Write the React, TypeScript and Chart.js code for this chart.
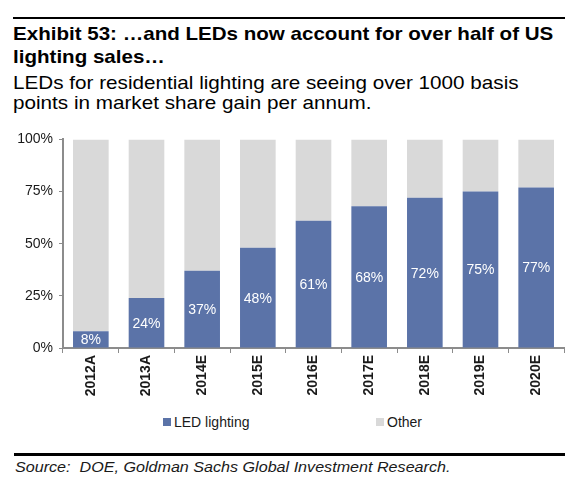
import { useEffect, useRef } from 'react';
import Chart from 'chart.js/auto';

const years = ['2012A', '2013A', '2014E', '2015E', '2016E', '2017E', '2018E', '2019E', '2020E'];
const ledShare = [8, 24, 37, 48, 61, 68, 72, 75, 77];
const otherShare = [92, 76, 63, 52, 39, 32, 28, 25, 23];
const yTicks = [0, 25, 50, 75, 100];

const LED_BLUE = '#5b73a8';
const OTHER_GREY = '#d9d9d9';
const FONT = '"Liberation Sans", Arial, sans-serif';

// white % labels centred in the LED segments
const barLabels = {
  id: 'barLabels',
  afterDatasetsDraw(chart: Chart) {
    const ctx = chart.ctx;
    const meta = chart.getDatasetMeta(0);
    ctx.save();
    ctx.fillStyle = '#ffffff';
    ctx.font = `14px ${FONT}`;
    ctx.textAlign = 'center';
    ctx.textBaseline = 'middle';
    meta.data.forEach((bar: any, i: number) => {
      const { x, y, base } = bar.getProps(['x', 'y', 'base'], true);
      ctx.fillText(`${ledShare[i]}%`, x, (y + base) / 2 + 1);
    });
    ctx.restore();
  },
};

const App = () => {
  const canvasRef = useRef<HTMLCanvasElement>(null);

  useEffect(() => {
    if (!canvasRef.current) return;
    const chart = new Chart(canvasRef.current, {
      type: 'bar',
      data: {
        labels: years,
        datasets: [
          {
            label: 'LED lighting',
            data: ledShare,
            backgroundColor: LED_BLUE,
            categoryPercentage: 1,
            barPercentage: 0.64,
          },
          {
            label: 'Other',
            data: otherShare,
            backgroundColor: OTHER_GREY,
            categoryPercentage: 1,
            barPercentage: 0.64,
          },
        ],
      },
      options: {
        responsive: false,
        animation: false,
        layout: { padding: { top: 14, right: 24, left: 0, bottom: 0 } },
        plugins: {
          legend: { display: false },
          tooltip: { enabled: false },
        },
        scales: {
          x: {
            stacked: true,
            grid: {
              drawOnChartArea: false,
              drawTicks: true,
              tickLength: 5,
              color: '#8c8c8c',
              offset: true,
            },
            border: { color: '#8c8c8c', width: 2 },
            ticks: {
              minRotation: 90,
              maxRotation: 90,
              padding: 2,
              color: '#1a1a1a',
              font: { family: FONT, size: 14, weight: 'bold' },
            },
            afterFit: (scale: any) => {
              scale.height = 57;
            },
          },
          y: {
            stacked: true,
            min: 0,
            max: 100,
            afterBuildTicks: (scale: any) => {
              scale.ticks = yTicks.map((v) => ({ value: v }));
            },
            grid: {
              drawOnChartArea: false,
              drawTicks: true,
              tickLength: 4,
              color: '#8c8c8c',
            },
            border: { color: '#8c8c8c', width: 2 },
            ticks: {
              padding: 6,
              color: '#1a1a1a',
              font: { family: FONT, size: 14 },
              callback: (v: any) => `${v}%`,
            },
            afterFit: (scale: any) => {
              scale.width = 63;
            },
          },
        },
      },
      plugins: [barLabels],
    });
    return () => chart.destroy();
  }, []);

  const text = {
    position: 'absolute' as const,
    fontFamily: FONT,
    color: '#000',
    whiteSpace: 'nowrap' as const,
    transformOrigin: 'left top',
  };

  return (
    <div style={{ position: 'absolute', left: 0, top: 0, width: 588, height: 489, background: '#fff' }}>
      <div style={{ position: 'absolute', left: 13, top: 17, width: 552, height: 2, background: '#000' }} />
      <div
        style={{
          ...text,
          left: 13,
          top: 22,
          fontSize: 19,
          lineHeight: '23px',
          fontWeight: 'bold',
          transform: 'scaleX(1.082)',
        }}
      >
        Exhibit 53: …and LEDs now account for over half of US
        <br />
        lighting sales…
      </div>
      <div style={{ ...text, left: 13, top: 73, fontSize: 19, lineHeight: '20px', transform: 'scaleX(1.088)' }}>
        LEDs for residential lighting are seeing over 1000 basis
        <br />
        points in market share gain per annum.
      </div>
      <canvas
        ref={canvasRef}
        width={588}
        height={280}
        style={{ position: 'absolute', left: 0, top: 125, width: 588, height: 280 }}
      />
      <div style={{ position: 'absolute', left: 163, top: 418, width: 8, height: 8, background: LED_BLUE }} />
      <div style={{ ...text, left: 174, top: 413, fontSize: 14, lineHeight: '18px', color: '#1a1a1a' }}>LED lighting</div>
      <div style={{ position: 'absolute', left: 376, top: 418, width: 8, height: 8, background: OTHER_GREY }} />
      <div style={{ ...text, left: 387, top: 413, fontSize: 14, lineHeight: '18px', color: '#1a1a1a' }}>Other</div>
      <div style={{ position: 'absolute', left: 14, top: 453, width: 551, height: 3, background: '#000' }} />
      <div
        style={{
          ...text,
          left: 15,
          top: 458,
          fontSize: 15.5,
          lineHeight: '18px',
          fontStyle: 'italic',
          color: '#1a1a1a',
          transform: 'scaleX(1.04)',
        }}
      >
        Source:&nbsp; DOE, Goldman Sachs Global Investment Research.
      </div>
    </div>
  );
};

export default App;
